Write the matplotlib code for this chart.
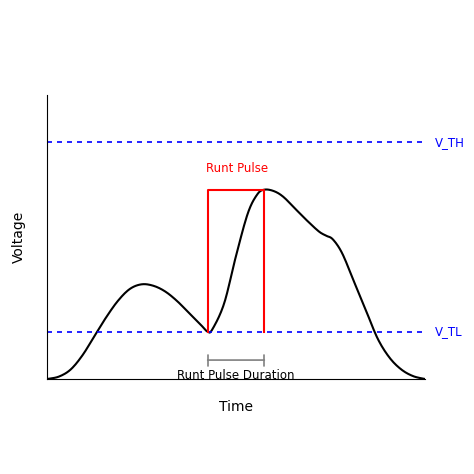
import matplotlib
matplotlib.use("Agg")
import matplotlib.pyplot as plt
import numpy as np

time = [0, .25, .5, .75, 1, 1.25, 1.5, 1.75, 2, 2.25, 2.5, 2.75, 3, 3.25, 3.4, 3.5, 3.75, 4, 4.25, 4.45, 4.6, 4.8, 5, 5.25, 5.5, 5.75, 5.9, 6.05, 6.25, 6.5, 6.75, 7, 7.25, 7.5, 7.75, 8]
voltage = [0, .05, .2, .5, .9, 1.3, 1.65, 1.9, 2.0, 1.97, 1.85, 1.65, 1.4, 1.15, 1.0, 1.05, 1.6, 2.6, 3.5, 3.9, 4.0, 3.97, 3.85, 3.6, 3.35, 3.12, 3.03, 2.95, 2.65, 2.05, 1.45, 0.85, 0.45, 0.2, 0.06, 0]
v_th, v_tl = 5.0, 1.0
runt_start, runt_end, runt_peak = 3.4, 4.6, 4.0

def smooth(x, y, n=12):
    # Catmull-Rom rendering of the read points
    x = np.asarray(x, float); y = np.asarray(y, float)
    P = np.column_stack([x, y])
    P = np.vstack([P[0], P, P[-1]])
    out = []
    t = np.linspace(0, 1, n, endpoint=False)[:, None]
    for i in range(1, len(P) - 2):
        p0, p1, p2, p3 = P[i-1], P[i], P[i+1], P[i+2]
        out.append(0.5 * ((2*p1) + (-p0 + p2)*t + (2*p0 - 5*p1 + 4*p2 - p3)*t**2 + (-p0 + 3*p1 - 3*p2 + p3)*t**3))
    out.append(P[-2][None, :])
    o = np.vstack(out)
    return o[:, 0], o[:, 1]

fig = plt.figure(figsize=(4.74, 4.74), dpi=100)
ax = fig.add_axes([47/474, 1-379/474, 378/474, 284/474])
sx, sy = smooth(time, voltage)
ax.plot(sx, sy, color='black', lw=1.5)
ax.axhline(v_th, color='blue', ls=(0, (3, 3)), lw=1.2)
ax.axhline(v_tl, color='blue', ls=(0, (3, 3)), lw=1.2)
ax.plot([runt_start, runt_start, runt_end, runt_end], [v_tl, runt_peak, runt_peak, v_tl], color='red', lw=1.5)
ax.text(4.02, 4.45, 'Runt Pulse', color='red', ha='center', va='center', fontsize=8.5)
ax.annotate('', xy=(runt_start, 0.4), xytext=(runt_end, 0.4),
            arrowprops=dict(arrowstyle='|-|', color='gray', lw=1.2, mutation_scale=4, shrinkA=0, shrinkB=0))
ax.text(4.0, 0.07, 'Runt Pulse Duration', ha='center', va='center', fontsize=8.5)
ax.text(8.22, v_th, 'V_TH', color='blue', va='center', fontsize=8.5)
ax.text(8.22, v_tl, 'V_TL', color='blue', va='center', fontsize=8.5)
ax.set_xlim(0, 8)
ax.set_ylim(0, 6)
ax.set_xticks([]); ax.set_yticks([])
ax.spines['top'].set_visible(False); ax.spines['right'].set_visible(False)
ax.set_xlabel('Time', fontsize=10, labelpad=15)
ax.set_ylabel('Voltage', fontsize=10, labelpad=15)
fig.savefig('out.png', dpi=100)
